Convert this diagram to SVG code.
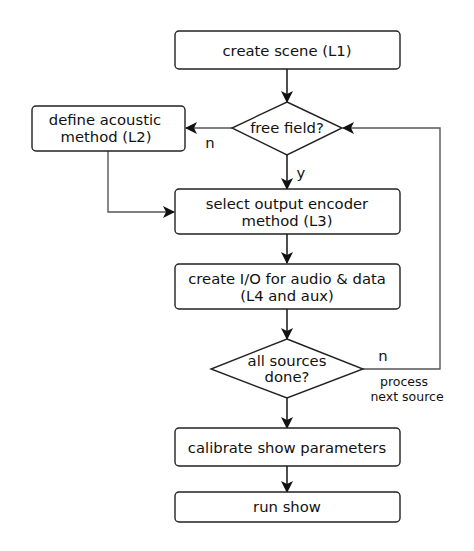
<svg xmlns="http://www.w3.org/2000/svg" width="474" height="551" viewBox="0 0 474 551">
<style>
.box{fill:#fff;stroke:#222;stroke-width:1.4}
.t{font-family:"DejaVu Sans",sans-serif;font-size:14.8px;fill:#111;text-anchor:middle}
.s{font-family:"DejaVu Sans",sans-serif;font-size:12.5px;fill:#111;text-anchor:middle}
.c{fill:none;stroke:#222;stroke-width:1.6}
.g{fill:none;stroke:#555;stroke-width:1.4}
</style>
<defs>
<marker id="ah" viewBox="0 0 12 12" refX="11" refY="6" markerWidth="12" markerHeight="12" markerUnits="userSpaceOnUse" orient="auto">
<path d="M0,0 L12,6 L0,12 L3,6 Z" fill="#111"/>
</marker>
</defs>
<rect width="474" height="551" fill="#fff"/>
<g id="connectors">
<line class="c" x1="287" y1="69" x2="287" y2="102" marker-end="url(#ah)"/>
<line class="g" x1="232" y1="128" x2="186" y2="128" marker-end="url(#ah)"/>
<line class="c" x1="287" y1="155" x2="287" y2="189" marker-end="url(#ah)"/>
<polyline class="g" points="108,151 108,212 174,212" marker-end="url(#ah)"/>
<line class="c" x1="287" y1="234" x2="287" y2="263" marker-end="url(#ah)"/>
<line class="c" x1="287" y1="309" x2="287" y2="339" marker-end="url(#ah)"/>
<polyline class="g" points="363,369 440,369 440,128 343,128" marker-end="url(#ah)"/>
<line class="c" x1="287" y1="398" x2="287" y2="428" marker-end="url(#ah)"/>
<line class="c" x1="287" y1="466" x2="287" y2="492" marker-end="url(#ah)"/>
<text class="t" x="210" y="148">n</text>
<text class="t" x="301" y="178">y</text>
<text class="t" x="383" y="361">n</text>
<text class="s" x="404" y="386">process</text>
<text class="s" x="407" y="401">next source</text>
</g>
<g id="n1"><rect class="box" x="175" y="31" width="225" height="38" rx="4"/><text class="t" x="287" y="56">create scene (L1)</text></g>
<g id="n2"><polygon class="box" points="287,102 342,128 287,155 232,128"/><text class="t" x="287" y="133">free field?</text></g>
<g id="n3"><rect class="box" x="32" y="106" width="153" height="45" rx="4"/><text class="t" x="105" y="125">define acoustic</text><text class="t" x="106" y="142">method (L2)</text></g>
<g id="n4"><rect class="box" x="175" y="189" width="225" height="45" rx="4"/><text class="t" x="287" y="209">select output encoder</text><text class="t" x="287" y="226">method (L3)</text></g>
<g id="n5"><rect class="box" x="175" y="264" width="225" height="45" rx="4"/><text class="t" x="287" y="284">create I/O for audio &amp; data</text><text class="t" x="287" y="301">(L4 and aux)</text></g>
<g id="n6"><polygon class="box" points="287,339 363,369 287,398 211,369"/><text class="t" x="287" y="366">all sources</text><text class="t" x="287" y="382">done?</text></g>
<g id="n7"><rect class="box" x="175" y="428" width="225" height="38" rx="4"/><text class="t" x="287" y="453">calibrate show parameters</text></g>
<g id="n8"><rect class="box" x="175" y="492" width="225" height="30" rx="4"/><text class="t" x="287" y="512">run show</text></g>
</svg>
